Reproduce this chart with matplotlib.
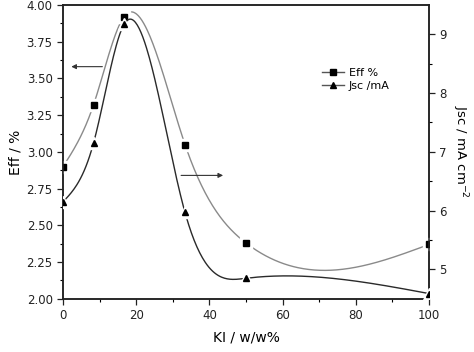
import numpy as np
import matplotlib.pyplot as plt

# KI content and measured cell parameters
ki = [0, 8.33, 16.67, 33.33, 50, 100]
eff = [2.90, 3.32, 3.92, 3.05, 2.38, 2.37]   # %
jsc = [6.15, 7.15, 9.17, 5.97, 4.85, 4.59]   # mA cm^-2


def natural_spline(x, y, n=400):
    # plain natural cubic spline, only used to draw the smooth connecting line
    x = np.asarray(x, float)
    y = np.asarray(y, float)
    h = np.diff(x)
    m = len(x)
    A = np.zeros((m, m))
    b = np.zeros(m)
    A[0, 0] = A[-1, -1] = 1
    for i in range(1, m - 1):
        A[i, i - 1] = h[i - 1]
        A[i, i] = 2 * (h[i - 1] + h[i])
        A[i, i + 1] = h[i]
        b[i] = 6 * ((y[i + 1] - y[i]) / h[i] - (y[i] - y[i - 1]) / h[i - 1])
    M = np.linalg.solve(A, b)
    xs = np.linspace(x[0], x[-1], n)
    k = np.clip(np.searchsorted(x, xs) - 1, 0, m - 2)
    t0 = x[k + 1] - xs
    t1 = xs - x[k]
    hk = h[k]
    ys = (M[k] * t0**3 + M[k + 1] * t1**3) / (6 * hk) \
        + (y[k] / hk - M[k] * hk / 6) * t0 + (y[k + 1] / hk - M[k + 1] * hk / 6) * t1
    return xs, ys


fig = plt.figure(figsize=(4.74, 3.52), dpi=100)
ax = fig.add_axes([0.133, 0.151, 0.772, 0.835])
ax2 = ax.twinx()

xs, ys = natural_spline(ki, eff)
ax.plot(xs, ys, color="#8a8a8a", lw=1.0, zorder=2)
ax.plot(ki, eff, ls="none", marker="s", ms=8, color="white", zorder=3)
ax.plot(ki, eff, ls="none", marker="s", ms=5, color="black", zorder=4)

xs, ys = natural_spline(ki, jsc)
ax2.plot(xs, ys, color="#2a2a2a", lw=1.0, zorder=2)
ax2.plot(ki, jsc, ls="none", marker="^", ms=8, color="white", zorder=3)
ax2.plot(ki, jsc, ls="none", marker="^", ms=5, color="black", zorder=4)

# legend proxies
h1, = ax.plot([], [], color="#555555", lw=1.0, marker="s", ms=4, mfc="black", mec="black")
h2, = ax.plot([], [], color="#555555", lw=1.0, marker="^", ms=4, mfc="black", mec="black")
ax.legend([h1, h2], ["Eff %", "Jsc /mA"], loc="upper left", bbox_to_anchor=(0.68, 0.82),
          frameon=False, fontsize=8, handlelength=2.0, labelspacing=0.3, handletextpad=0.4)

# arrows pointing to the relevant axis
ax.annotate("", xy=(1.5, 3.58), xytext=(11.5, 3.58),
            arrowprops=dict(arrowstyle="-|>", color="#333333", lw=0.8, mutation_scale=7))
ax.annotate("", xy=(44.5, 2.84), xytext=(31.5, 2.84),
            arrowprops=dict(arrowstyle="-|>", color="#333333", lw=0.8, mutation_scale=7))

ax.set_xlim(0, 100)
ax.set_ylim(2.0, 4.0)
ax2.set_ylim(4.5, 9.5)
ax.set_xticks(np.arange(0, 101, 20))
ax.set_xticks(np.arange(10, 100, 20), minor=True)
ax.set_yticks(np.arange(2.0, 4.01, 0.25))
ax.set_yticks(np.arange(2.125, 4.0, 0.25), minor=True)
ax.set_yticklabels([f"{v:.2f}" for v in np.arange(2.0, 4.01, 0.25)])
ax2.set_yticks([5, 6, 7, 8, 9])
ax2.set_yticks([5.5, 6.5, 7.5, 8.5], minor=True)

for a in (ax, ax2):
    a.tick_params(which="major", direction="out", length=4, width=0.9, labelsize=8.5, colors="#222222")
    a.tick_params(which="minor", direction="out", length=2.5, width=0.8)
    for s in a.spines.values():
        s.set_linewidth(1.1)
        s.set_color("#222222")

ax.set_xlabel("KI / w/w%", fontsize=10, labelpad=6)
ax.set_ylabel("Eff / %", fontsize=10, labelpad=3)
ax2.set_ylabel("Jsc / mA cm$^{-2}$", fontsize=9.5, rotation=-90, labelpad=16)

fig.savefig("out.png", dpi=100)
